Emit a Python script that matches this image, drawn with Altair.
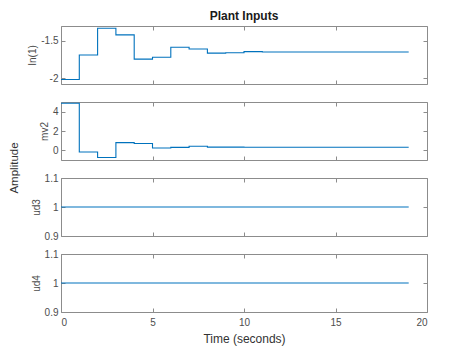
import altair as alt
import pandas as pd

time_s = list(range(20))
in1 = [-2.02, -1.69, -1.33, -1.42, -1.745, -1.72, -1.585, -1.61, -1.665, -1.66,
       -1.645, -1.65, -1.65, -1.65, -1.65, -1.65, -1.65, -1.65, -1.65, -1.65]
mv2 = [4.87, -0.18, -0.74, 0.80, 0.70, 0.24, 0.31, 0.42, 0.33, 0.33,
       0.32, 0.32, 0.32, 0.32, 0.32, 0.32, 0.32, 0.32, 0.32, 0.32]
ud3 = [1.0] * 20
ud4 = [1.0] * 20

panel_names = ["In(1)", "mv2", "ud3", "ud4"]
panel_values = [in1, mv2, ud3, ud4]
panel_domains = [[-2.08, -1.3], [-1, 5], [0.9, 1.1], [0.9, 1.1]]
panel_ticks = [[-2, -1.5], [0, 2, 4], [0.9, 1, 1.1], [0.9, 1, 1.1]]
x_ticks = [0, 5, 10, 15, 20]

FONT = "Liberation Sans"
GRAY = "#8c8c8c"
TXT = "#4d4d4d"
W, H = 366, 58


def panel(i, bottom=False):
    df = pd.DataFrame({"t": time_s, "v": panel_values[i]})
    xs = alt.Scale(domain=[0, 20], nice=False)
    ys = alt.Scale(domain=panel_domains[i], nice=False, zero=False)
    if bottom:
        xax = alt.Axis(values=x_ticks, orient="bottom", offset=-4, tickSize=4,
                       labelPadding=5, title="Time (seconds)", titleFontSize=12,
                       titleFontWeight="normal", titleFont=FONT, titleColor="#333333",
                       titlePadding=6, labelExpr="'' + datum.value")
    else:
        xax = alt.Axis(values=x_ticks, orient="bottom", offset=-4, tickSize=4,
                       labels=False, title=None)
    yax = alt.Axis(values=panel_ticks[i], orient="left", offset=-4, tickSize=4,
                   labelPadding=3, title=panel_names[i], titleFontSize=10,
                   titleFontWeight="normal", titleFont=FONT, titleColor=TXT,
                   titlePadding=3, labelExpr="'' + datum.value")
    line = alt.Chart(df).mark_line(interpolate="step-after", color="#0072BD",
                                   strokeWidth=1.1).encode(
        x=alt.X("t:Q", scale=xs, axis=xax),
        y=alt.Y("v:Q", scale=ys, axis=yax),
    )
    ghost = alt.Chart(df).mark_line(opacity=0).encode(
        x=alt.X("t:Q", scale=xs, axis=alt.Axis(values=x_ticks, orient="top", offset=-4,
                                               tickSize=4, labels=False, title=None)),
        y=alt.Y("v:Q", scale=ys, axis=alt.Axis(values=panel_ticks[i], orient="right",
                                               offset=-4, tickSize=4, labels=False,
                                               title=None)),
    )
    layers = [line, ghost]
    if i == 1:
        amp = alt.Chart(pd.DataFrame({"label": ["Amplitude"]})).mark_text(
            angle=270, font=FONT, fontSize=11.5, color="#333333", baseline="middle",
            align="center").encode(
            x=alt.value(-46), y=alt.value(H + 8), text="label:N")
        layers.append(amp)
    ch = alt.layer(*layers).resolve_axis(x="independent", y="independent").properties(
        width=W, height=H)
    if i == 0:
        ch = ch.properties(title=alt.TitleParams("Plant Inputs", font=FONT, fontSize=12,
                                                 fontWeight="bold", color="#1a1a1a",
                                                 anchor="middle", frame="group",
                                                 offset=3))
    return ch


chart = alt.vconcat(
    panel(0), panel(1), panel(2), panel(3, bottom=True), spacing=18, bounds="flush"
).configure_view(stroke=GRAY, strokeWidth=1).configure_axis(
    domain=False, grid=False, tickColor=GRAY, labelFont=FONT, labelFontSize=10,
    labelColor=TXT
).properties(background="white", padding={"left": 0, "top": 1, "right": 5, "bottom": 3})

chart.save("out.html", embed_options={"renderer": "svg", "actions": False})
